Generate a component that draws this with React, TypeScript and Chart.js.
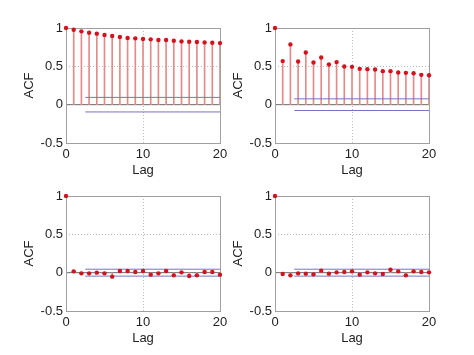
import React, { useEffect, useRef } from 'react';
import { Chart, registerables } from 'chart.js';
Chart.register(...registerables);

const lags = [0, 1, 2, 3, 4, 5, 6, 7, 8, 9, 10, 11, 12, 13, 14, 15, 16, 17, 18, 19, 20];
const acfA = [1, 0.978, 0.956, 0.939, 0.926, 0.908, 0.895, 0.882, 0.869, 0.865, 0.856, 0.852, 0.843, 0.843, 0.834, 0.825, 0.821, 0.817, 0.812, 0.808, 0.803];
const acfB = [1, 0.568, 0.786, 0.563, 0.681, 0.55, 0.616, 0.524, 0.555, 0.498, 0.493, 0.467, 0.463, 0.459, 0.437, 0.437, 0.419, 0.415, 0.41, 0.389, 0.384];
const acfC = [1, 0.017, -0.009, -0.009, 0, -0.009, -0.052, 0.022, 0.022, 0.009, 0.022, -0.026, -0.009, 0.022, -0.035, 0.004, -0.043, -0.035, 0.009, 0.009, -0.026];
const acfD = [1, -0.017, -0.035, -0.009, -0.013, -0.022, 0.026, -0.013, 0.004, 0.009, 0.017, -0.026, 0.004, -0.009, -0.017, 0.039, 0.017, -0.035, 0.017, 0.009, 0.004];
const confBounds = [0.095, 0.076, 0.045, 0.045];
const boundStart = 2.5;
const xTicks = [0, 10, 20];
const yTicks = [-0.5, 0, 0.5, 1];
const xGridAt = [10];
const yGridAt = [0.5];

const FONT = { family: '"Liberation Sans", Arial, Helvetica, sans-serif', size: 13 };
const TEXT = '#222';

const framePlugin = {
  id: 'frame',
  beforeDatasetsDraw(chart: any) {
    const { ctx, chartArea: a, scales } = chart;
    ctx.save();
    ctx.strokeStyle = '#bbbbbb';
    ctx.lineWidth = 1;
    ctx.setLineDash([1, 2]);
    xGridAt.forEach((v) => {
      const px = Math.round(scales.x.getPixelForValue(v)) + 0.5;
      ctx.beginPath();
      ctx.moveTo(px, a.top);
      ctx.lineTo(px, a.bottom);
      ctx.stroke();
    });
    yGridAt.forEach((v) => {
      const py = Math.round(scales.y.getPixelForValue(v)) + 0.5;
      ctx.beginPath();
      ctx.moveTo(a.left, py);
      ctx.lineTo(a.right, py);
      ctx.stroke();
    });
    ctx.restore();
  },
  afterDatasetDraw(chart: any, args: any) {
    if (args.index !== 1) return;
    const { ctx, chartArea: a } = chart;
    ctx.save();
    ctx.setLineDash([]);
    ctx.lineWidth = 1;
    ctx.strokeStyle = '#a0a0a0';
    ctx.strokeRect(Math.round(a.left) + 0.5, Math.round(a.top) + 0.5, Math.round(a.right - a.left), Math.round(a.bottom - a.top));
    ctx.restore();
  },
};

function Panel({ values, bound, left, top }: { values: number[]; bound: number; left: number; top: number }) {
  const ref = useRef<HTMLCanvasElement>(null);
  useEffect(() => {
    const canvas = ref.current!;
    const chart = new Chart(canvas, {
      type: 'bar',
      data: {
        datasets: [
          {
            type: 'line',
            data: [{ x: 0, y: 0 }, { x: 20, y: 0 }],
            borderColor: '#6a6a6a',
            borderWidth: 1,
            pointRadius: 0,
            order: 4,
          } as any,
          {
            type: 'bar',
            data: lags.map((x, i) => ({ x, y: values[i] })),
            backgroundColor: '#e58a8a',
            barThickness: 1,
            order: 3,
          } as any,
          {
            type: 'line',
            data: [{ x: boundStart, y: bound }, { x: 20, y: bound }],
            borderColor: '#7474c8',
            borderWidth: 1,
            pointRadius: 0,
            order: 2,
          } as any,
          {
            type: 'line',
            data: [{ x: boundStart, y: -bound }, { x: 20, y: -bound }],
            borderColor: '#7474c8',
            borderWidth: 1,
            pointRadius: 0,
            order: 2,
          } as any,
          {
            type: 'line',
            data: lags.map((x, i) => ({ x, y: values[i] })),
            showLine: false,
            pointRadius: 2.2,
            pointBackgroundColor: '#d4121e',
            pointBorderColor: '#d4121e',
            pointBorderWidth: 0,
            clip: false,
            order: 1,
          } as any,
        ],
      },
      options: {
        animation: false,
        responsive: false,
        devicePixelRatio: 1,
        layout: { padding: { left: 0, right: 17, top: 28, bottom: 0 } },
        plugins: { legend: { display: false }, tooltip: { enabled: false } },
        scales: {
          x: {
            type: 'linear',
            min: 0,
            max: 20,
            offset: false,
            grid: { display: false, drawTicks: false, tickLength: 0 },
            border: { display: false },
            afterBuildTicks: (s: any) => {
              s.ticks = xTicks.map((v) => ({ value: v }));
            },
            ticks: { font: FONT, color: TEXT, padding: 4, maxRotation: 0, autoSkip: false, callback: (v: any) => String(v) },
            title: { display: true, text: 'Lag', font: FONT, color: TEXT, padding: { top: 0, bottom: 0 } },
            afterFit: (s: any) => {
              s.height = 35;
            },
          },
          y: {
            type: 'linear',
            min: -0.5,
            max: 1,
            grid: { display: false, drawTicks: false, tickLength: 0 },
            border: { display: false },
            afterBuildTicks: (s: any) => {
              s.ticks = yTicks.map((v) => ({ value: v }));
            },
            ticks: { font: FONT, color: TEXT, padding: 3, autoSkip: false, callback: (v: any) => String(v) },
            title: { display: true, text: 'ACF', font: FONT, color: TEXT, padding: { top: 22, bottom: 0 } },
            afterFit: (s: any) => {
              s.width = 66;
            },
          },
        },
      } as any,
      plugins: [framePlugin],
    });
    return () => chart.destroy();
  }, [values, bound]);
  return (
    <canvas
      ref={ref}
      width={237}
      height={178}
      style={{ position: 'absolute', left, top, width: 237, height: 178 }}
    />
  );
}

export default function App() {
  return (
    <div style={{ position: 'absolute', left: 0, top: 0, width: 474, height: 355, background: '#fff', overflow: 'hidden' }}>
      <Panel values={acfA} bound={confBounds[0]} left={0} top={0} />
      <Panel values={acfB} bound={confBounds[1]} left={209} top={0} />
      <Panel values={acfC} bound={confBounds[2]} left={0} top={168} />
      <Panel values={acfD} bound={confBounds[3]} left={209} top={168} />
    </div>
  );
}
